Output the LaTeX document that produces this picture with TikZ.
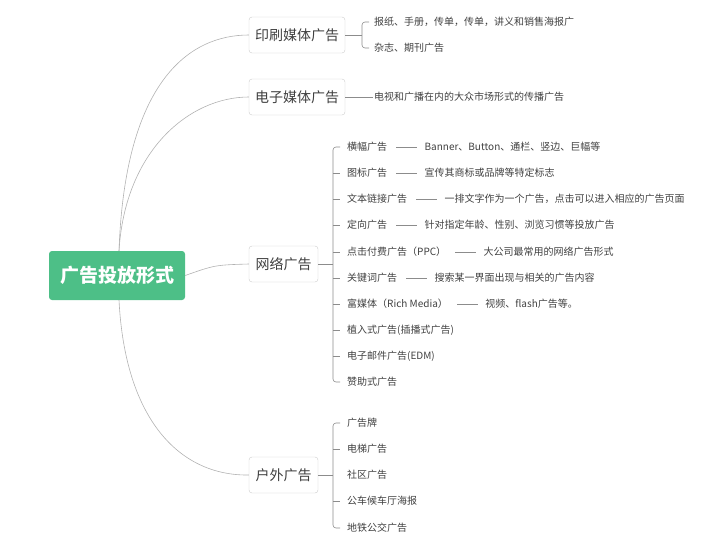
\documentclass[tikz,border=0pt]{standalone}
\usepackage{fontspec}
\setmainfont{Noto Sans CJK SC}
\definecolor{rootg}{RGB}{77,191,135}
\begin{document}
\begin{tikzpicture}[x=1pt,y=-1pt,
  lvl/.style={draw=black!20,rounded corners=3,fill=white,text=black!75,font=\fontsize{14}{16}\selectfont,inner sep=0pt,minimum height=36},
  leaf/.style={anchor=west,text=black!75,font=\fontsize{10}{12}\selectfont,inner sep=1pt},
  ln/.style={draw=black!45,line width=0.6pt},
  cv/.style={draw=black!30,line width=0.6pt}]
\useasboundingbox (0,0) rectangle (720,549);
\node[fill=rootg,rounded corners=3,minimum width=136,minimum height=49,inner sep=0pt,text=white,font=\fontsize{19}{22}\selectfont\bfseries] (root) at (117,275.5) {广告投放形式};
\node[lvl,minimum width=96] (p) at (297,35) {印刷媒体广告};
\node[lvl,minimum width=96] (e) at (297,97) {电子媒体广告};
\node[lvl,minimum width=69] (n) at (283.5,264) {网络广告};
\node[lvl,minimum width=69] (o) at (283.5,475) {户外广告};
\coordinate (rt) at (119,251);
\coordinate (rb) at (119,300);
\draw[cv] (rt) .. controls (125,80) and (190,35) .. (p.west);
\draw[cv] (rt) .. controls (125,150) and (190,97) .. (e.west);
\draw[cv] (root.east) .. controls (215,265) .. (n.west);
\draw[cv] (rb) .. controls (125,420) and (180,476) .. (o.west);
% print
\coordinate (pb) at (362,35);
\draw[ln] (p.east) -- (pb);
\draw[ln,rounded corners=3] (369,22) -- (362,22) -- (362,48) -- (369,48);
\node[leaf] (p1) at (373,22) {报纸、手册，传单，传单，讲义和销售海报广};
\node[leaf] (p2) at (373,48) {杂志、期刊广告};
% electronic
\node[leaf] (e1) at (373,97) {电视和广播在内的大众市场形式的传播广告};
\draw[ln] (e.east) -- (e1.west);
% network
\coordinate (nb) at (333,264);
\draw[ln] (n.east) -- (nb);
\draw[ln,rounded corners=3] (340,147) -- (333,147) -- (333,382) -- (340,382);
\foreach \y in {173,199,225,252,278,304,330,356} \draw[ln] (333,\y) -- (340,\y);
\node[leaf] (n1) at (346,147) {横幅广告};
\node[leaf] (n2) at (346,173) {图标广告};
\node[leaf] (n3) at (346,199) {文本链接广告};
\node[leaf] (n4) at (346,225) {定向广告};
\node[leaf] (n5) at (346,252) {点击付费广告（PPC）};
\node[leaf] (n6) at (346,278) {关键词广告};
\node[leaf] (n7) at (346,304) {富媒体（Rich Media）};
\node[leaf] (n8) at (346,330) {植入式广告(插播式广告)};
\node[leaf] (n9) at (346,356) {电子邮件广告(EDM)};
\node[leaf] (n10) at (346,382) {赞助式广告};
\foreach \i/\t in {1/{Banner、Button、通栏、竖边、巨幅等},2/{宣传其商标或品牌等特定标志},3/{一排文字作为一个广告，点击可以进入相应的广告页面},4/{针对指定年龄、性别、浏览习惯等投放广告},5/{大公司最常用的网络广告形式},6/{搜索某一界面出现与相关的广告内容},7/{视频、flash广告等。}}{
  \node[leaf] (d\i) at ([xshift=35]n\i.east) {\t};
  \draw[ln] ([xshift=8]n\i.east) -- ([xshift=-6]d\i.west);
}
% outdoor
\coordinate (ob) at (333,475);
\draw[ln] (o.east) -- (ob);
\draw[ln,rounded corners=3] (340,423) -- (333,423) -- (333,528) -- (340,528);
\foreach \y in {449,501} \draw[ln] (333,\y) -- (340,\y);
\node[leaf] (o1) at (346,423) {广告牌};
\node[leaf] (o2) at (346,449) {电梯广告};
\node[leaf] (o3) at (346,475) {社区广告};
\node[leaf] (o4) at (346,501) {公车候车厅海报};
\node[leaf] (o5) at (346,528) {地铁公交广告};
\end{tikzpicture}
\end{document}
